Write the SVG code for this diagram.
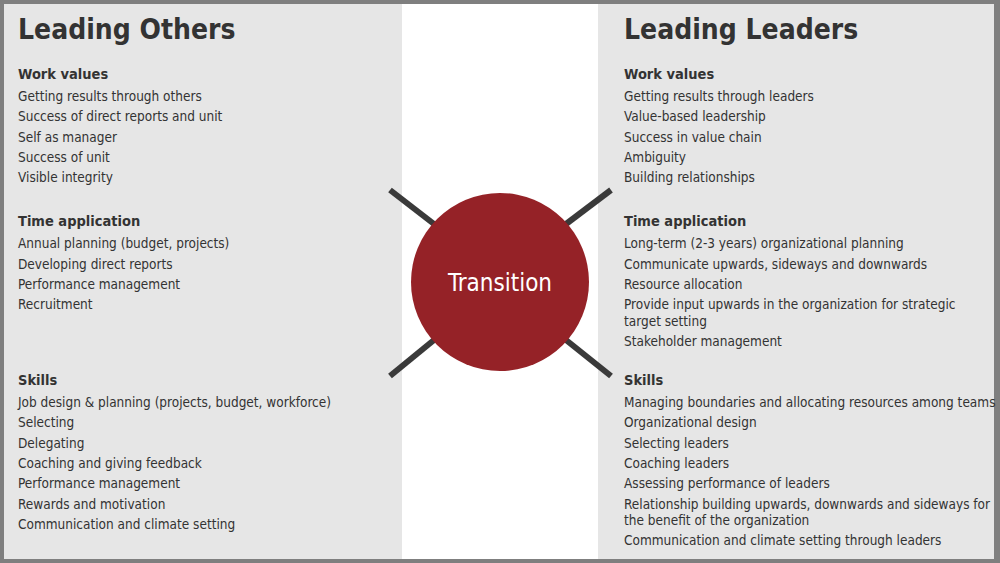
<svg xmlns="http://www.w3.org/2000/svg" width="1000" height="563" viewBox="0 0 1000 563">
<style>
text{font-family:"DejaVu Sans Condensed","DejaVu Sans",sans-serif;fill:#333}
.t{font-size:28px;font-weight:bold}
.h{font-size:14.5px;font-weight:bold}
.i{font-size:13.5px}
.x{stroke:#3a3a3a;stroke-width:6}
</style>
<rect x="0" y="0" width="1000" height="563" fill="#7f7f7f"/>
<rect x="4" y="4" width="398" height="555" fill="#e6e6e6"/>
<rect x="402" y="4" width="196" height="555" fill="#fff"/>
<rect x="598" y="4" width="396" height="555" fill="#e6e6e6"/>
<g id="connectors">
<line class="x" x1="390" y1="190" x2="434" y2="224"/>
<line class="x" x1="611" y1="190" x2="566" y2="224"/>
<line class="x" x1="390" y1="376" x2="434" y2="340"/>
<line class="x" x1="611" y1="376" x2="566" y2="340"/>
</g>
<g id="transition">
<circle cx="500" cy="282" r="89" fill="#952227"/>
<text x="500" y="291" text-anchor="middle" style="font-size:24px;fill:#fff">Transition</text>
</g>
<g id="leading-others">
<text class="t" x="18" y="39">Leading Others</text>
<text class="h" x="18" y="79">Work values</text>
<text class="i" x="18" y="101">Getting results through others</text>
<text class="i" x="18" y="121">Success of direct reports and unit</text>
<text class="i" x="18" y="142">Self as manager</text>
<text class="i" x="18" y="162">Success of unit</text>
<text class="i" x="18" y="182">Visible integrity</text>
<text class="h" x="18" y="226">Time application</text>
<text class="i" x="18" y="248">Annual planning (budget, projects)</text>
<text class="i" x="18" y="269">Developing direct reports</text>
<text class="i" x="18" y="289">Performance management</text>
<text class="i" x="18" y="309">Recruitment</text>
<text class="h" x="18" y="385">Skills</text>
<text class="i" x="18" y="407">Job design &amp; planning (projects, budget, workforce)</text>
<text class="i" x="18" y="427">Selecting</text>
<text class="i" x="18" y="448">Delegating</text>
<text class="i" x="18" y="468">Coaching and giving feedback</text>
<text class="i" x="18" y="488">Performance management</text>
<text class="i" x="18" y="509">Rewards and motivation</text>
<text class="i" x="18" y="529">Communication and climate setting</text>
</g>
<g id="leading-leaders">
<text class="t" x="624" y="39">Leading Leaders</text>
<text class="h" x="624" y="79">Work values</text>
<text class="i" x="624" y="101">Getting results through leaders</text>
<text class="i" x="624" y="121">Value-based leadership</text>
<text class="i" x="624" y="142">Success in value chain</text>
<text class="i" x="624" y="162">Ambiguity</text>
<text class="i" x="624" y="182">Building relationships</text>
<text class="h" x="624" y="226">Time application</text>
<text class="i" x="624" y="248">Long-term (2-3 years) organizational planning</text>
<text class="i" x="624" y="269">Communicate upwards, sideways and downwards</text>
<text class="i" x="624" y="289">Resource allocation</text>
<text class="i" x="624" y="309">Provide input upwards in the organization for strategic</text>
<text class="i" x="624" y="326">target setting</text>
<text class="i" x="624" y="346">Stakeholder management</text>
<text class="h" x="624" y="385">Skills</text>
<text class="i" x="624" y="407">Managing boundaries and allocating resources among teams</text>
<text class="i" x="624" y="427">Organizational design</text>
<text class="i" x="624" y="448">Selecting leaders</text>
<text class="i" x="624" y="468">Coaching leaders</text>
<text class="i" x="624" y="488">Assessing performance of leaders</text>
<text class="i" x="624" y="509">Relationship building upwards, downwards and sideways for</text>
<text class="i" x="624" y="525">the benefit of the organization</text>
<text class="i" x="624" y="545">Communication and climate setting through leaders</text>
</g>
</svg>
